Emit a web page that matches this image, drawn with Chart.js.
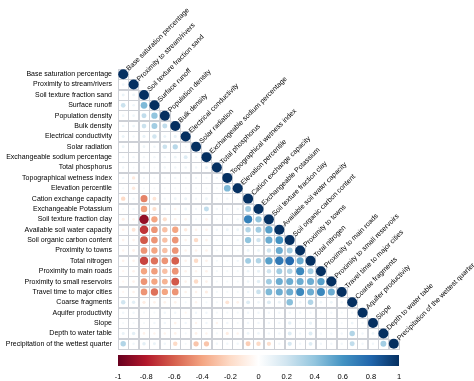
<!DOCTYPE html>
<html>
<head>
<meta charset="utf-8">
<script src="https://cdn.jsdelivr.net/npm/chart.js@4/dist/chart.umd.min.js"></script>
<style>
  html, body { margin: 0; padding: 0; background: #fff; }
  #wrap { width: 474px; height: 381px; position: relative; }
</style>
</head>
<body>
<div id="wrap"><canvas id="c" width="474" height="381"></canvas></div>
<script>
// ---- Variable names (row / column order) ----
const variables = [
  "Base saturation percentage",
  "Proximity to stream/rivers",
  "Soil texture fraction sand",
  "Surface runoff",
  "Population density",
  "Bulk density",
  "Electrical conductivity",
  "Solar radiation",
  "Exchangeable sodium percentage",
  "Total phosphorus",
  "Topographical wetness index",
  "Elevation percentile",
  "Cation exchange capacity",
  "Exchangeable Potassium",
  "Soil texture fraction clay",
  "Available soil water capacity",
  "Soil organic carbon content",
  "Proximity to towns",
  "Total nitrogen",
  "Proximity to main roads",
  "Proximity to small reservoirs",
  "Travel time to major cities",
  "Coarse fragments",
  "Aquifer productivity",
  "Slope",
  "Depth to water table",
  "Precipitation of the wettest quarter"
];

// ---- Lower-triangle correlations (row i holds columns 0..i-1; diagonal = 1) ----
const r01 = [0.07];
const r02 = [0.09, 0.08];
const r03 = [0.22, 0.07, 0.45];
const r04 = [0.07, 0.07, 0.25, 0.40];
const r05 = [0.07, 0.08, 0.22, 0.35, 0.25];
const r06 = [0.09, 0.06, 0.10, 0.20, 0.09, 0.10];
const r07 = [0.08, 0.03, 0.08, 0.07, 0.22, 0.28, 0.05];
const r08 = [0.06, 0.06, 0.06, 0.06, 0.06, 0.08, 0.15, 0.06];
const r09 = [0.06, 0.05, 0.06, 0.05, 0.06, 0.06, 0.07, 0.06, 0.10];
const r10 = [0.06, -0.12, 0.06, 0.05, 0.05, 0.06, 0.05, 0.06, 0.05, 0.06];
const r11 = [0.05, -0.12, 0.05, 0.05, 0.05, 0.05, 0.05, 0.05, 0.05, 0.05, 0.45];
const r12 = [-0.20, 0.06, -0.50, -0.15, 0.06, 0.08, 0.09, 0.06, 0.08, 0.05, 0.06, 0.05];
const r13 = [0.05, 0.06, -0.42, -0.18, 0.06, -0.06, 0.08, 0.06, 0.25, 0.06, 0.06, 0.06, 0.35];
const r14 = [-0.09, -0.07, -0.88, -0.40, -0.18, -0.07, -0.07, 0.05, -0.07, 0.05, 0.05, 0.06, 0.68, 0.40];
const r15 = [-0.07, -0.15, -0.72, -0.45, -0.30, -0.40, -0.12, -0.07, -0.07, 0.06, 0.08, 0.08, 0.30, 0.35, 0.55];
const r16 = [-0.07, -0.07, -0.62, -0.45, -0.30, -0.45, -0.07, -0.20, -0.07, 0.05, 0.05, 0.06, 0.40, 0.20, 0.50, 0.60];
const r17 = [-0.06, -0.08, -0.45, -0.40, -0.30, -0.45, -0.07, -0.07, -0.07, 0.05, 0.05, 0.05, 0.08, 0.08, 0.20, 0.50, 0.35];
const r18 = [-0.07, -0.07, -0.68, -0.55, -0.45, -0.60, -0.07, -0.20, -0.07, 0.05, 0.05, 0.06, 0.35, 0.30, 0.55, 0.72, 0.78, 0.50];
const r19 = [-0.05, -0.07, -0.40, -0.42, -0.30, -0.45, -0.07, -0.06, -0.07, 0.05, 0.05, 0.05, 0.07, 0.09, 0.20, 0.35, 0.30, 0.65, 0.35];
const r20 = [-0.05, -0.07, -0.45, -0.40, -0.35, -0.62, -0.07, -0.20, -0.07, 0.05, 0.05, 0.05, 0.07, 0.12, 0.35, 0.50, 0.50, 0.50, 0.50, 0.55];
const r21 = [-0.05, -0.07, -0.45, -0.55, -0.40, -0.45, -0.07, -0.07, -0.10, 0.05, 0.05, 0.05, 0.07, 0.22, 0.45, 0.50, 0.50, 0.65, 0.50, 0.65, 0.50];
const r22 = [0.20, 0.12, -0.10, -0.07, -0.07, -0.07, 0.05, -0.06, 0.05, 0.05, -0.15, -0.07, 0.15, 0.07, 0.15, 0.09, 0.42, 0.07, 0.30, 0.07, 0.08, 0.07];
const r23 = [0.06, 0.06, 0.05, 0.05, 0.06, 0.06, -0.05, 0.06, 0.06, 0.05, 0.05, 0.05, 0.06, 0.06, 0.06, 0.06, 0.07, 0.06, 0.06, 0.05, 0.06, 0.05, 0.06];
const r24 = [0.05, 0.05, 0.05, 0.06, 0.06, -0.07, 0.06, -0.06, 0.06, -0.06, 0.06, 0.05, 0.06, 0.06, 0.06, 0.06, 0.12, 0.05, 0.10, 0.05, 0.05, 0.05, 0.08, 0.06];
const r25 = [0.09, 0.12, -0.07, -0.06, -0.06, -0.07, 0.05, -0.08, -0.06, 0.05, -0.10, -0.06, 0.08, 0.07, 0.06, 0.06, 0.15, 0.06, 0.15, 0.06, 0.06, 0.06, 0.30, 0.06, 0.08];
const r26 = [0.30, 0.06, 0.12, 0.09, 0.06, -0.20, 0.05, -0.28, -0.28, 0.06, 0.06, 0.06, -0.25, -0.20, -0.18, 0.06, 0.18, 0.06, 0.15, 0.06, 0.06, 0.06, 0.25, 0.06, 0.06, 0.35];
const lowerRows = [[], r01, r02, r03, r04, r05, r06, r07, r08, r09, r10, r11, r12, r13,
  r14, r15, r16, r17, r18, r19, r20, r21, r22, r23, r24, r25, r26];

// ---- Colour bar ticks ----
const colorbarTicks = [-1, -0.8, -0.6, -0.4, -0.2, 0, 0.2, 0.4, 0.6, 0.8, 1];
const paletteStops = ["#67001F", "#B2182B", "#D6604D", "#F4A582", "#FDDBC7", "#FFFFFF",
  "#D1E5F0", "#92C5DE", "#4393C3", "#2166AC", "#053061"];

// ---- helpers ----
function hexToRgb(h) {
  return [parseInt(h.slice(1, 3), 16), parseInt(h.slice(3, 5), 16), parseInt(h.slice(5, 7), 16)];
}
const stopRgb = paletteStops.map(hexToRgb);
function corrColor(v) {
  const t = (Math.max(-1, Math.min(1, v)) + 1) / 2 * (stopRgb.length - 1);
  const i = Math.min(stopRgb.length - 2, Math.floor(t));
  const f = t - i;
  const a = stopRgb[i], b = stopRgb[i + 1];
  const c = a.map((x, k) => Math.round(x + (b[k] - x) * f));
  return `rgb(${c[0]},${c[1]},${c[2]})`;
}

// build bubble points from the arrays (diagonal included)
const points = [];
lowerRows.forEach((row, i) => {
  row.forEach((v, j) => points.push({ x: j, y: i, v: v }));
  points.push({ x: i, y: i, v: 1 });
});

const FONT = '"Liberation Sans", Arial, Helvetica, sans-serif';
const n = variables.length;

function cellWidth(chart) {
  const xs = chart.scales.x;
  const w = xs ? xs.getPixelForValue(1) - xs.getPixelForValue(0) : NaN;
  return isFinite(w) && w > 0 ? w : 10.4;
}

const corrPlugin = {
  id: 'corrDecor',
  beforeDatasetsDraw(chart) {
    const { ctx } = chart;
    const xs = chart.scales.x, ys = chart.scales.y;
    const cw = xs.getPixelForValue(1) - xs.getPixelForValue(0);
    const ch = ys.getPixelForValue(1) - ys.getPixelForValue(0);
    ctx.save();
    ctx.strokeStyle = '#cdd0d6';
    ctx.lineWidth = 1;
    for (let i = 0; i < n; i++) {
      for (let j = 0; j <= i; j++) {
        const x = xs.getPixelForValue(j) - cw / 2;
        const y = ys.getPixelForValue(i) - ch / 2;
        ctx.strokeRect(Math.round(x) + 0.5, Math.round(y) + 0.5, Math.round(cw), Math.round(ch));
      }
    }
    ctx.restore();
  },
  afterDraw(chart) {
    const { ctx } = chart;
    const xs = chart.scales.x, ys = chart.scales.y, cb = chart.scales.cb;
    // diagonal column labels
    ctx.save();
    ctx.fillStyle = '#000';
    ctx.font = '7px ' + FONT;
    ctx.textAlign = 'left';
    ctx.textBaseline = 'middle';
    const d = 4.5;
    variables.forEach((lab, i) => {
      const px = xs.getPixelForValue(i), py = ys.getPixelForValue(i);
      ctx.save();
      ctx.translate(px + d, py - d);
      ctx.rotate(-Math.PI / 4);
      ctx.fillText(lab, 0, 0);
      ctx.restore();
    });
    ctx.restore();
    // colour bar
    const x0 = cb.getPixelForValue(-1), x1 = cb.getPixelForValue(1);
    const top = chart.chartArea.bottom + 6, h = 11;
    const g = ctx.createLinearGradient(x0, 0, x1, 0);
    paletteStops.forEach((c, k) => g.addColorStop(k / (paletteStops.length - 1), c));
    ctx.save();
    ctx.fillStyle = g;
    ctx.fillRect(x0, top, x1 - x0, h);
    ctx.restore();
  }
};

new Chart(document.getElementById('c'), {
  type: 'bubble',
  data: {
    datasets: [{
      data: points,
      clip: false,
      backgroundColor: c => corrColor(c.raw ? c.raw.v : 0),
      borderWidth: 0,
      hoverBorderWidth: 0,
      radius: c => {
        const cw = cellWidth(c.chart);
        return c.raw ? cw * 0.48 * Math.sqrt(Math.abs(c.raw.v)) : 0;
      }
    }]
  },
  options: {
    responsive: false,
    animation: false,
    events: [],
    layout: { padding: { top: 69, right: 75, left: 0, bottom: 0 } },
    plugins: { legend: { display: false }, tooltip: { enabled: false } },
    scales: {
      x: { type: 'linear', min: -0.5, max: n - 0.5, display: false },
      cb: {
        type: 'linear', position: 'bottom', min: -1, max: 1,
        afterBuildTicks: s => { s.ticks = colorbarTicks.map(v => ({ value: v })); },
        afterFit: s => { s.height = 32; },
        grid: { display: false, drawTicks: false },
        border: { display: false },
        ticks: {
          padding: 23, color: '#000', maxRotation: 0, autoSkip: false,
          font: { family: FONT, size: 7.5 },
          callback: v => String(v)
        }
      },
      y: {
        type: 'linear', reverse: true, min: -0.5, max: n - 0.5,
        afterBuildTicks: s => { s.ticks = variables.map((_, i) => ({ value: i })); },
        afterFit: s => { s.width = 118; },
        grid: { display: false, drawTicks: false },
        border: { display: false },
        ticks: {
          padding: 6, color: '#000', autoSkip: false,
          font: { family: FONT, size: 7 },
          callback: v => variables[v]
        }
      }
    }
  },
  plugins: [corrPlugin]
});
</script>
</body>
</html>
